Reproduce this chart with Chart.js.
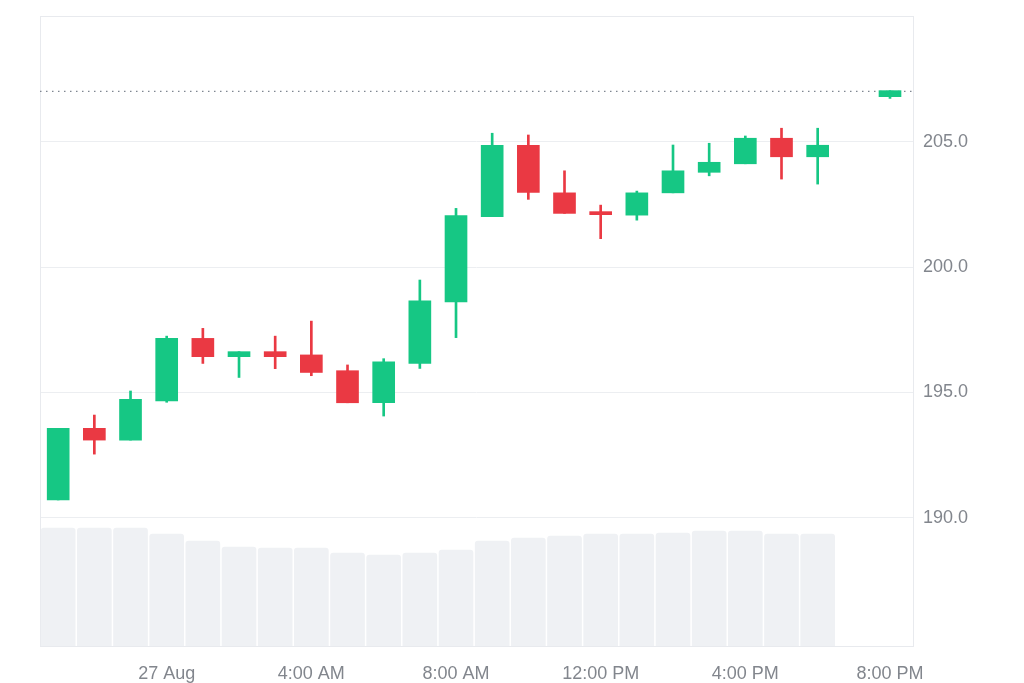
<!DOCTYPE html>
<html>
<head>
<meta charset="utf-8">
<script src="https://cdn.jsdelivr.net/npm/chart.js@4.4.1/dist/chart.umd.min.js"></script>
<style>
  html, body { margin: 0; padding: 0; background: #ffffff; }
  #wrap { width: 1024px; height: 683px; }
</style>
</head>
<body>
<div id="wrap"><canvas id="c" width="1024" height="683"></canvas></div>
<script>
// Hours since 21:00 on 26 Aug (one candle per hour)
const hours  = [0, 1, 2, 3, 4, 5, 6, 7, 8, 9, 10, 11, 12, 13, 14, 15, 16, 17, 18, 19, 20, 21, 23];
const opens  = [190.71, 193.57, 193.10, 194.66, 197.16, 196.43, 196.63, 196.50, 195.87, 194.59, 196.16, 198.62, 202.02, 204.87, 202.97, 202.22, 202.08, 202.97, 203.79, 204.13, 205.15, 204.41, 206.81];
const closes = [193.57, 193.10, 194.73, 197.16, 196.43, 196.63, 196.43, 195.80, 194.59, 196.22, 198.66, 202.06, 204.87, 202.99, 202.15, 202.10, 202.97, 203.85, 204.19, 205.15, 204.41, 204.87, 207.05];
const highs  = [193.57, 194.10, 195.06, 197.25, 197.56, 196.63, 197.25, 197.85, 196.10, 196.35, 199.49, 202.35, 205.35, 205.28, 203.85, 202.48, 203.04, 204.88, 204.95, 205.24, 205.55, 205.55, 207.05];
const lows   = [190.71, 192.54, 193.10, 194.61, 196.16, 195.60, 195.95, 195.67, 194.59, 194.06, 195.96, 197.19, 202.02, 202.71, 202.15, 201.14, 201.88, 202.97, 203.65, 204.13, 203.52, 203.32, 206.74];
// Volume (relative units) for hours 0..21
const volHours = [0, 1, 2, 3, 4, 5, 6, 7, 8, 9, 10, 11, 12, 13, 14, 15, 16, 17, 18, 19, 20, 21];
const volumes  = [11.8, 11.8, 11.8, 11.2, 10.5, 9.9, 9.8, 9.8, 9.3, 9.1, 9.3, 9.6, 10.5, 10.8, 11.0, 11.2, 11.2, 11.3, 11.5, 11.5, 11.2, 11.2];
const lastPrice = 207.02;
const priceTicks = [190, 195, 200, 205];
const tickPositions = [3, 7, 11, 15, 19, 23];
const tickLabels = ['27 Aug', '4:00 AM', '8:00 AM', '12:00 PM', '4:00 PM', '8:00 PM'];

const GREEN = '#16c784';
const RED = '#ea3943';
const colors = opens.map((o, i) => closes[i] >= o ? GREEN : RED);
const X_MIN = -0.503, X_MAX = 23.636;
const FONT = { family: '"Liberation Sans", Arial, Helvetica, sans-serif', size: 18 };
const TEXT = '#82868d';

const borderPlugin = {
  id: 'plotBorder',
  beforeDatasetsDraw(chart) {
    const a = chart.chartArea, ctx = chart.ctx;
    ctx.save();
    ctx.strokeStyle = '#e8eaee';
    ctx.lineWidth = 1;
    ctx.strokeRect(Math.round(a.left) + 0.5, Math.round(a.top) + 0.5, Math.round(a.right - a.left), Math.round(a.bottom - a.top));
    ctx.restore();
  }
};

function noMargins(scale) {
  scale.paddingTop = 0; scale.paddingBottom = 0;
  scale.paddingLeft = 0; scale.paddingRight = 0;
}

new Chart(document.getElementById('c'), {
  type: 'bar',
  data: {
    datasets: [
      {
        label: 'Bodies',
        data: hours.map((h, i) => ({ x: h, y: [opens[i], closes[i]] })),
        backgroundColor: colors,
        barThickness: 22,
        grouped: false,
        yAxisID: 'y',
        order: 1
      },
      {
        label: 'Wicks',
        data: hours.map((h, i) => ({ x: h, y: [lows[i], highs[i]] })),
        backgroundColor: colors,
        barThickness: 2,
        grouped: false,
        yAxisID: 'y',
        order: 2
      },
      {
        type: 'line',
        label: 'Last',
        data: [{ x: X_MIN, y: lastPrice }, { x: X_MAX, y: lastPrice }],
        borderColor: '#7f8691',
        borderWidth: 1.2,
        borderDash: [1.5, 4.5],
        pointRadius: 0,
        yAxisID: 'y',
        order: 3
      },
      {
        label: 'Volume',
        data: volHours.map((h, i) => ({ x: h, y: volumes[i] })),
        backgroundColor: '#eff1f4',
        barThickness: 34,
        borderRadius: { topLeft: 3, topRight: 3, bottomLeft: 0, bottomRight: 0 },
        borderSkipped: 'bottom',
        grouped: false,
        yAxisID: 'v',
        order: 4
      }
    ]
  },
  options: {
    responsive: false,
    animation: false,
    layout: { padding: { left: 40, top: 16, right: 0, bottom: 0 } },
    plugins: { legend: { display: false }, tooltip: { enabled: false } },
    scales: {
      x: {
        type: 'linear',
        min: X_MIN,
        max: X_MAX,
        offset: false,
        grid: { display: false, drawTicks: false },
        border: { display: false },
        afterBuildTicks(scale) { scale.ticks = tickPositions.map(v => ({ value: v })); },
        afterFit(scale) { scale.height = 37; noMargins(scale); },
        ticks: {
          autoSkip: false,
          maxRotation: 0,
          padding: 17,
          color: TEXT,
          font: FONT,
          callback: (v) => { const k = tickPositions.indexOf(v); return k >= 0 ? tickLabels[k] : ''; }
        }
      },
      y: {
        position: 'right',
        min: 184.88,
        max: 210.03,
        grid: { color: '#eceef1', drawTicks: false },
        border: { display: false },
        afterBuildTicks(scale) { scale.ticks = priceTicks.map(v => ({ value: v })); },
        afterFit(scale) { scale.width = 111; noMargins(scale); },
        ticks: {
          padding: 10,
          color: TEXT,
          font: FONT,
          callback: (v) => Number(v).toFixed(1)
        }
      },
      v: {
        display: false,
        min: 0,
        max: 63,
        grid: { display: false }
      }
    }
  },
  plugins: [borderPlugin]
});
</script>
</body>
</html>
